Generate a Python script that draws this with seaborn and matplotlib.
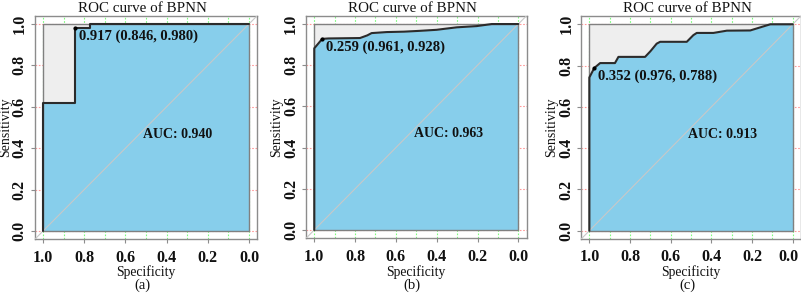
import numpy as np
import pandas as pd
import matplotlib
matplotlib.use("Agg")
import matplotlib.pyplot as plt
import matplotlib.transforms as mtransforms
import seaborn as sns

sns.set_theme(style="white")
plt.rcParams['font.family'] = ['Liberation Serif', 'DejaVu Serif']

# ---- data ----
panel_tags = ["(a)", "(b)", "(c)"]
titles = ["ROC curve of BPNN", "ROC curve of BPNN", "ROC curve of BPNN"]
auc_values = [0.940, 0.963, 0.913]

spec_a = [1.0, 1.0, 0.846, 0.846, 0.77, 0.77, 0.0]
sens_a = [0.0, 0.62, 0.62, 0.980, 0.980, 1.0, 1.0]

spec_b = [1.0, 1.0, 0.961, 0.93, 0.776, 0.74, 0.719, 0.645, 0.56, 0.482, 0.40, 0.368, 0.302, 0.204, 0.13, 0.0]
sens_b = [0.0, 0.882, 0.928, 0.930, 0.932, 0.945, 0.956, 0.961, 0.963, 0.967, 0.972, 0.976, 0.984, 0.990, 1.0, 1.0]

spec_c = [1.0, 1.0, 0.976, 0.947, 0.874, 0.857, 0.726, 0.70, 0.669, 0.652, 0.521, 0.489, 0.472, 0.39, 0.324, 0.209, 0.11, 0.0]
sens_c = [0.0, 0.742, 0.788, 0.812, 0.812, 0.842, 0.842, 0.869, 0.906, 0.915, 0.915, 0.947, 0.958, 0.958, 0.969, 0.970, 1.0, 1.0]

thresholds = [0.917, 0.259, 0.352]
thr_spec = [0.846, 0.961, 0.976]
thr_sens = [0.980, 0.928, 0.788]

specs = [spec_a, spec_b, spec_c]
senss = [sens_a, sens_b, sens_c]

# ---- layout (pixels of the 801x296 image) ----
W, H = 801, 296
boxes = [(34.8, 257.2, 15.7, 239.3), (306.1, 526.5, 15.8, 238.2), (581.2, 800.9, 16.0, 239.0)]

fig = plt.figure(figsize=(W / 100, H / 100), dpi=100)
fig.patch.set_facecolor("white")

BLUE = "#87CEEB"
GREY_FILL = "#EEEEEE"
BOX = "#8c8c8c"
TXT = "#111111"

def fx(px):
    return px / W

def fy(py):
    return 1 - py / H

for i in range(3):
    l, r, t, b = boxes[i]
    ax = fig.add_axes([fx(l), fy(b), (r - l) / W, (b - t) / H])
    ax.set_facecolor("white")
    ax.set_xlim(1.04, -0.04)
    ax.set_ylim(-0.04, 1.04)

    # grid
    for gx in np.arange(0, 1.01, 0.1):
        ax.axvline(gx, color="#7CFC7C", lw=0.8, ls=(0, (1.5, 1.5)), zorder=0)
    for gy in np.arange(0, 1.01, 0.2):
        ax.axhline(gy, color="#FF9A9A", lw=0.8, ls=(0, (1.5, 1.5)), zorder=0)

    df = pd.DataFrame({"Specificity": specs[i], "Sensitivity": senss[i]})
    ax.fill_between([1.0, 0.0], [0, 0], [1, 1], color=GREY_FILL, lw=0, zorder=1)
    ax.fill_between(df["Specificity"], 0, df["Sensitivity"], color=BLUE, lw=0, zorder=2)
    ax.plot([1, 1, 0, 0, 1], [0, 1, 1, 0, 0], color="#808080", lw=1.0, zorder=2.5)
    ax.plot([1.04, -0.04], [-0.04, 1.04], color="#c8c8c8", lw=0.8, zorder=3)
    sns.lineplot(data=df, x="Specificity", y="Sensitivity", sort=False, estimator=None,
                 color="#2b2b2b", lw=1.5, ax=ax, zorder=4)

    ax.plot([thr_spec[i]], [thr_sens[i]], "o", color="black", ms=2, zorder=5)
    ax.annotate(f"{thresholds[i]:.3f} ({thr_spec[i]:.3f}, {thr_sens[i]:.3f})",
                xy=(thr_spec[i], thr_sens[i]), xytext=(3, -1), textcoords="offset points",
                ha="left", va="top", fontsize=10.5, fontweight="bold", color=TXT, zorder=6)
    ax.text(0.513, 0.50, f"AUC: {auc_values[i]:.3f}", ha="left", va="top",
            fontsize=10, fontweight="bold", color=TXT, zorder=6)

    ax.set_xticks(np.arange(0, 1.01, 0.2))
    ax.set_xticklabels([f"{v:.1f}" for v in np.arange(0, 1.01, 0.2)])
    ax.set_yticks(np.arange(0, 1.01, 0.2))
    ax.set_yticklabels([f"{v:.1f}" for v in np.arange(0, 1.01, 0.2)], rotation=90, va="center")
    ax.tick_params(axis="both", which="both", length=3, width=0.8, color=BOX,
                   direction="out", bottom=True, left=True)
    ax.tick_params(axis="x", labelsize=11.5, pad=4.5)
    ax.tick_params(axis="y", labelsize=11.5, pad=2)
    for lab in ax.get_xticklabels() + ax.get_yticklabels():
        lab.set_fontweight("bold")
        lab.set_color(TXT)
    if i == 2:
        # keep the right-most tick label inside the picture
        xl = ax.get_xticklabels()
        last = [lab for lab, v in zip(xl, np.arange(0, 1.01, 0.2)) if abs(v) < 1e-9][0]
        last.set_transform(last.get_transform() +
                           mtransforms.ScaledTranslation(-3 / 72, 0, fig.dpi_scale_trans))
    for sp in ax.spines.values():
        sp.set_color(BOX)
        sp.set_linewidth(1.0)
    ax.set_xlabel("")
    ax.set_ylabel("")

    cx = (l + r) / 2
    fig.text(fx(cx - 4), fy(11.5), titles[i], ha="center", va="baseline", fontsize=10.8, color=TXT)
    fig.text(fx(cx), fy(272.5), "Specificity", ha="center", va="center", fontsize=9.8, color=TXT)
    fig.text(fx(l - 29.5), fy((t + b) / 2), "Sensitivity", ha="center", va="center",
             rotation=90, fontsize=10, color=TXT)
    fig.text(fx(cx - 4), fy(285.5), panel_tags[i], ha="center", va="center",
             fontsize=10.5, color=TXT)

fig.savefig("out.png", dpi=100)
